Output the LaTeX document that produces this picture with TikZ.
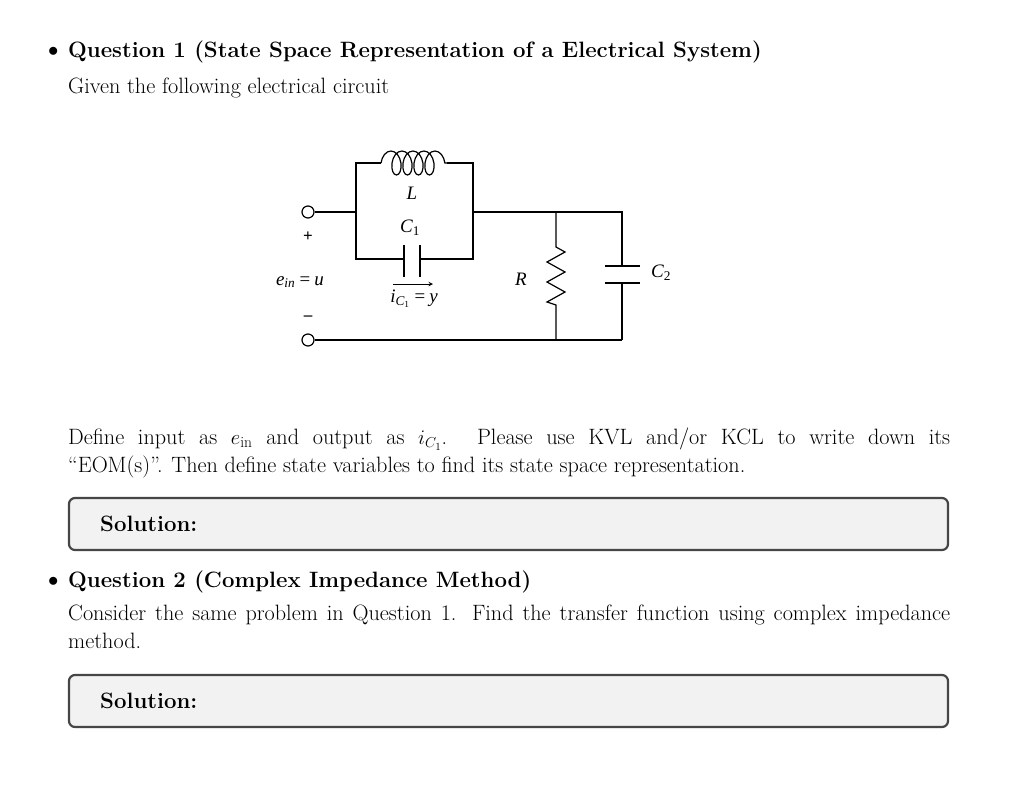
\documentclass[tikz,border=0pt]{standalone}
\usepackage{fontspec}
\newfontfamily\cf{Liberation Serif}
\usetikzlibrary{decorations.pathmorphing}
\begin{document}
\begin{tikzpicture}[x=1pt,y=-1pt,
  body/.style={anchor=west,inner sep=0pt,font=\fontsize{22.2}{28}\selectfont},
  head/.style={body,font=\fontsize{22.2}{28}\selectfont\bfseries},
  sol/.style={draw={rgb,255:red,70;green,70;blue,70},line width=2.2pt,fill={rgb,255:red,242;green,242;blue,242},rounded corners=6pt},
  w/.style={line width=1.2pt},
  lab/.style={inner sep=0pt,font=\fontsize{19}{22}\selectfont\cf\itshape},
  term/.style={circle,draw,line width=1.2pt,minimum size=12pt,inner sep=0pt}]
\useasboundingbox (0,0) rectangle (1012,796);
% Question 1
\node[body] (b1) at (48,52) {$\bullet$};
\node[head] (q1) at (68,52) {Question 1 (State Space Representation of a Electrical System)};
\node[body] (g1) at (68,88) {Given the following electrical circuit};
\node[body,text width=882pt,align=justify,anchor=north west] (p1) at (68,428) {Define input as $e_{\rm in}$ and output as $i_{C_1}$. Please use KVL and/or KCL to write down its\linebreak ``EOM(s)''. Then define state variables to find its state space representation.};
\draw[sol] (69,498) rectangle (948,550);
\node[head] (s1) at (100,524) {Solution:};
% Question 2
\node[body] (b2) at (48,582) {$\bullet$};
\node[head] (q2) at (68,582) {Question 2 (Complex Impedance Method)};
\node[body,text width=882pt,align=justify,anchor=north west] (p2) at (68,605) {Consider the same problem in Question 1. Find the transfer function using complex impedance method.};
\draw[sol] (69,675) rectangle (948,727);
\node[head] (s2) at (100,701) {Solution:};
% Circuit
\node[term] (t1) at (308,212) {};
\node[term] (t2) at (308,340) {};
\coordinate (nl) at (356,212);
\coordinate (nr) at (473,212);
\coordinate (rt) at (556,212);
\coordinate (ct) at (622,212);
\coordinate (rb) at (556,340);
\coordinate (cb) at (622,340);
\draw[w] (t1) -- (nl) -- (356,163) -- (381,163);
\draw[w] (447,163) -- (473,163) -- (nr) -- (ct) -- (622,266);
\draw[w] (nl) -- (356,259) -- (404,259);
\draw[w] (420,259) -- (473,259) -- (nr);
\draw[w] (404,245) -- (404,277);
\draw[w] (420,245) -- (420,277);
% inductor
\draw[w,decorate,decoration={coil,amplitude=12pt,segment length=11pt,aspect=0.6}] (381,163) -- (447,163);
\draw[w] (rt) -- (556,247) -- (565,252) -- (547,262) -- (565,272) -- (547,282) -- (565,292) -- (547,302) -- (556,305) -- (rb);
\draw[w] (605,266) -- (640,266);
\draw[w] (605,283) -- (640,283);
\draw[w] (622,283) -- (cb);
\draw[w] (t2) -- (rb) -- (cb);
\draw[line width=1pt,-stealth] (393,284) -- (433,284);
\node[lab] (lL) at (412,193) {L};
\node[lab] (lC1) at (410,228) {C\textsubscript{\upshape 1}};
\node[lab] (lR) at (521,279) {R};
\node[lab] (lC2) at (661,273) {C\textsubscript{\upshape 2}};
\node[lab] (le) at (300,282) {e\textsubscript{in}\,=\,u};
\node[lab] (li) at (414,299) {i\textsubscript{C\textsubscript{\upshape 1}}\,=\,y};
\node[lab,font=\fontsize{17}{18}\selectfont\cf\bfseries] (pl) at (308,237) {+};
\node[lab,font=\fontsize{17}{18}\selectfont\cf\bfseries] (mi) at (308,318) {\textendash};
\end{tikzpicture}
\end{document}
